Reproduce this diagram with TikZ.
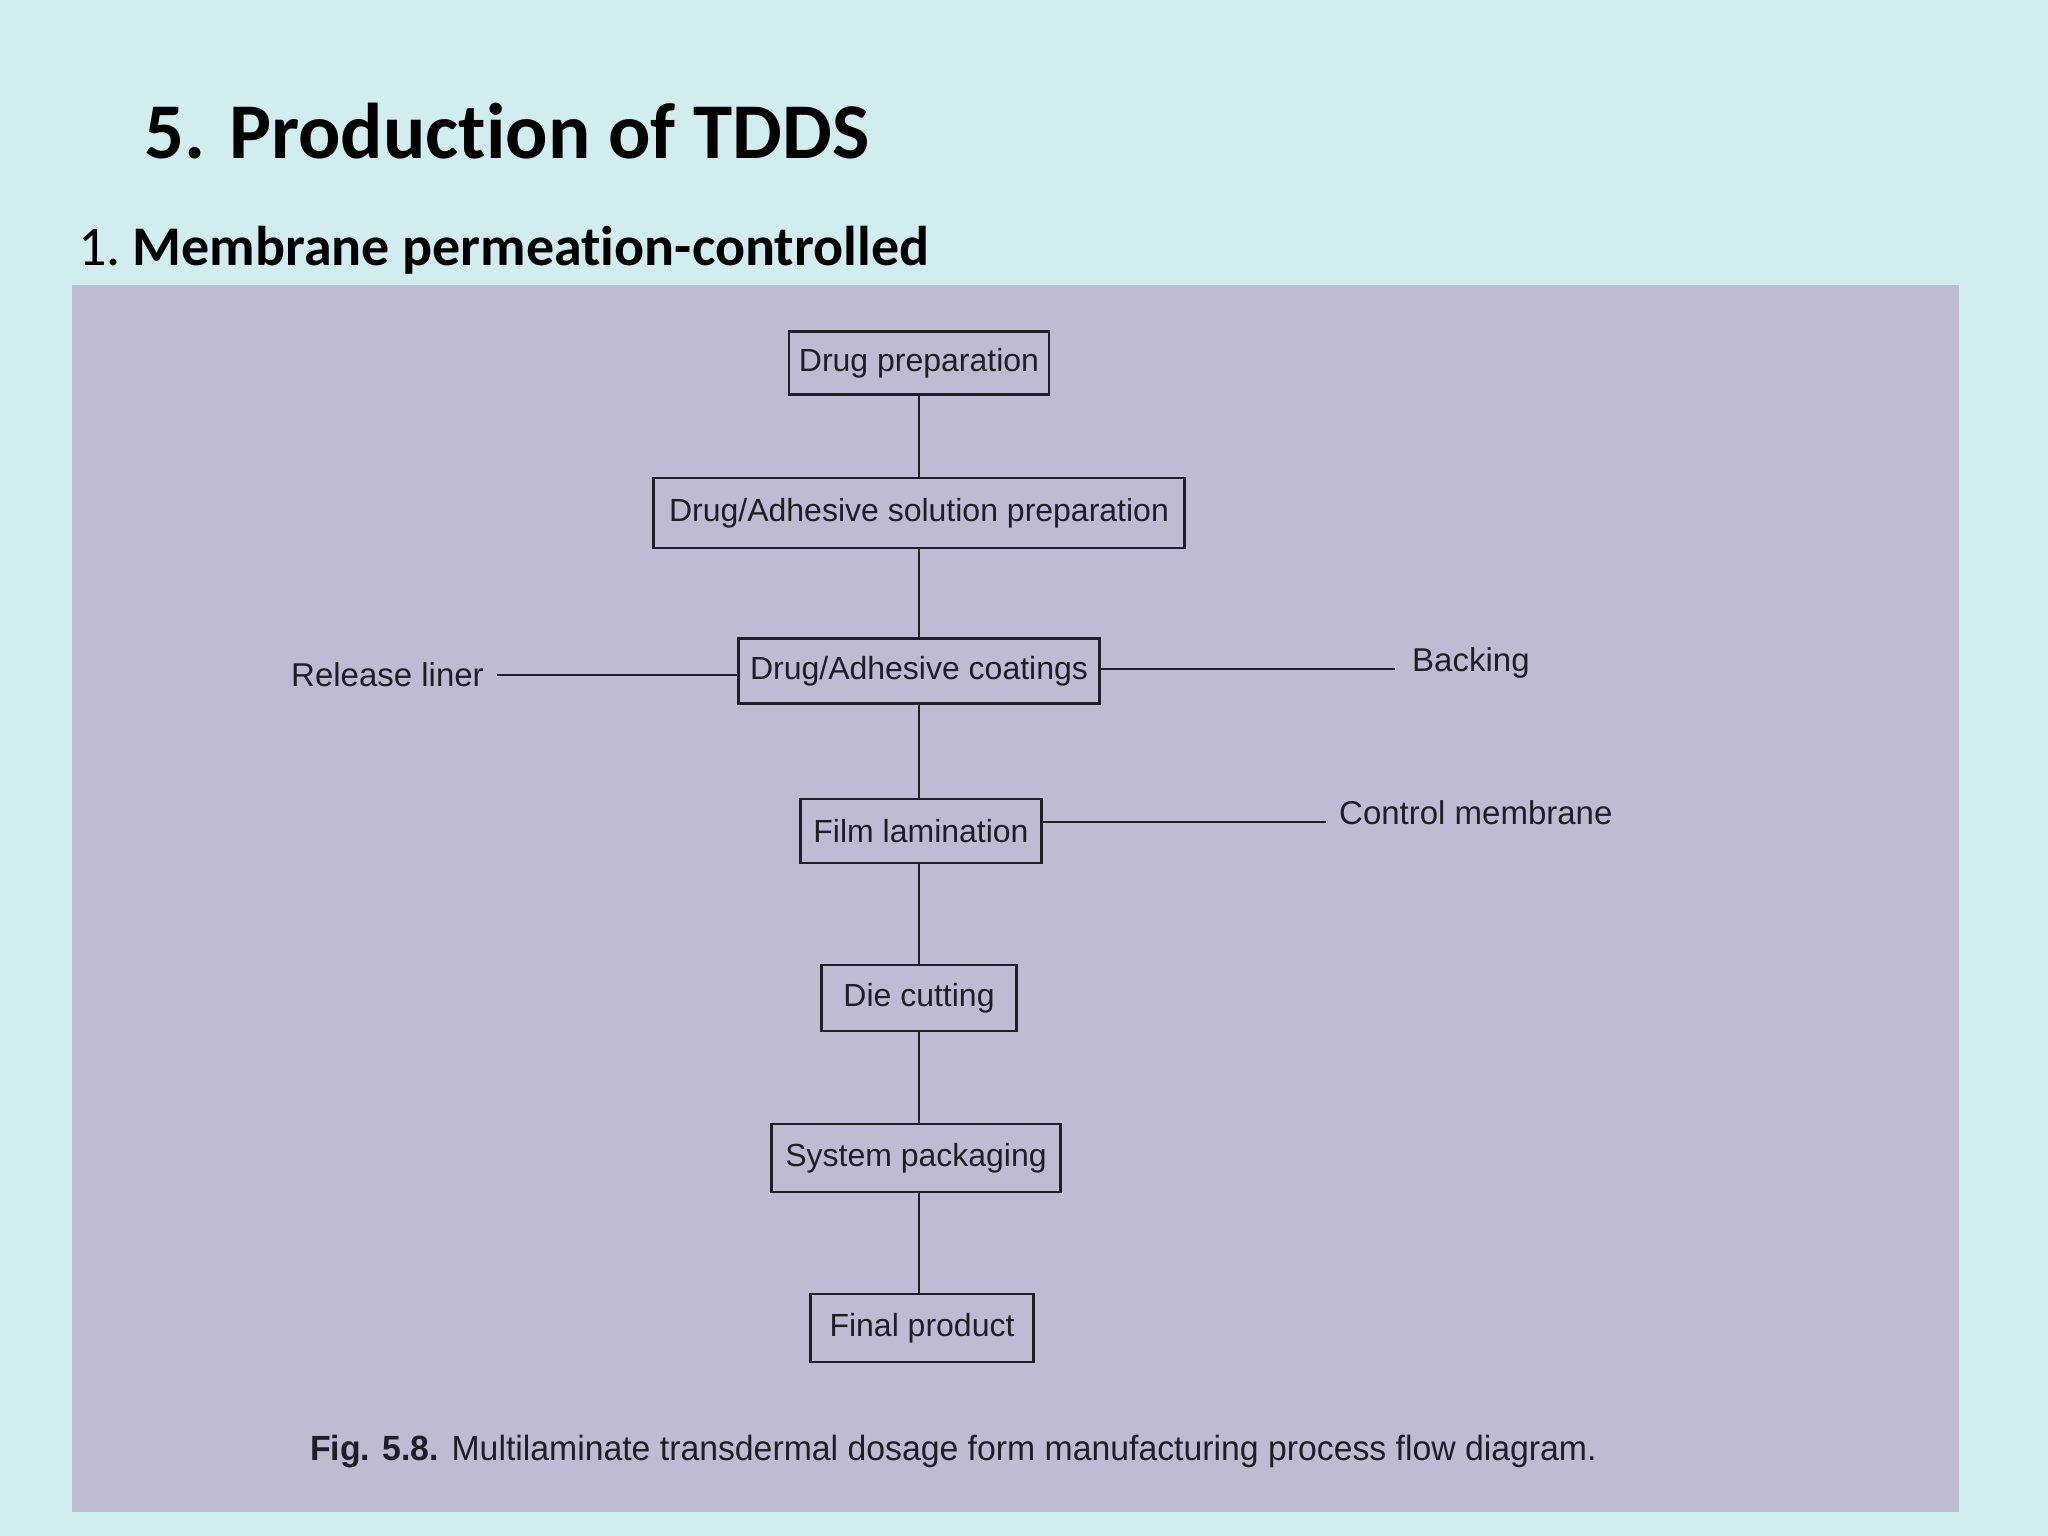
\documentclass[tikz,border=0pt]{standalone}
\usepackage{fontspec}
\setmainfont{Liberation Sans}
\newfontfamily\slidefont[Ligatures=NoCommon]{Carlito}
\newfontfamily\figfont{Liberation Sans}
\definecolor{bgcyan}{HTML}{D2EDF0}
\definecolor{panel}{HTML}{BEBCD3}
\definecolor{ink}{HTML}{1F1E27}
\begin{document}
\begin{tikzpicture}[x=1pt,y=-1pt,
  stepbox/.style={draw=ink, line width=2.8pt, text=ink, inner sep=0pt,
    font=\figfont\fontsize{32}{36}\selectfont},
  sidelabel/.style={text=ink, inner sep=0pt, font=\figfont\fontsize{33}{36}\selectfont},
  conn/.style={draw=ink, line width=2.5pt}]
\useasboundingbox (0,0) rectangle (2048,1536);
\fill[bgcyan] (0,0) rectangle (2048,1536);
\fill[panel] (72,285) rectangle (1959,1512);

% titles
\node[anchor=base west, inner sep=0pt, font=\slidefont\bfseries\fontsize{79}{90}\selectfont, text=black] (title) at (144,159) {5. Production of TDDS};
\node[anchor=base west, inner sep=0pt, font=\slidefont\fontsize{56}{64}\selectfont, text=black] (sub) at (78,265) {1.\hspace{-5pt} \textbf{Membrane permeation-controlled}};

% process boxes
\node[stepbox, minimum width=260, minimum height=63] (prep) at (919,363) {Drug preparation};
\node[stepbox, minimum width=531, minimum height=70] (sol) at (919,513) {Drug/Adhesive solution preparation};
\node[stepbox, minimum width=361, minimum height=65] (coat) at (919,671) {Drug/Adhesive coatings};
\node[stepbox, minimum width=241, minimum height=64] (film) at (921,831) {Film lamination};
\node[stepbox, minimum width=195, minimum height=66] (die) at (919,998) {Die cutting};
\node[stepbox, minimum width=289, minimum height=68] (pack) at (916,1158) {System packaging};
\node[stepbox, minimum width=223, minimum height=68] (final) at (922,1328) {Final product};

% side labels
\node[sidelabel, anchor=east] (rl) at (484,675) {Release liner};
\node[sidelabel, anchor=west] (back) at (1412,663) {Backing};
\node[sidelabel, anchor=west] (cm) at (1339,813) {Control membrane};

% vertical connectors
\draw[conn] (prep.south) -- (prep.south |- sol.north);
\draw[conn] (sol.south) -- (sol.south |- coat.north);
\draw[conn] (coat.south) -- (coat.south |- film.north);
\draw[conn] (coat.south |- film.south) -- (coat.south |- die.north);
\draw[conn] (die.south) -- (die.south |- pack.north);
\draw[conn] (die.south |- pack.south) -- (die.south |- final.north);

% side connectors
\coordinate (rlend) at ([xshift=13pt]rl.east);
\draw[conn] (rlend) -- (rlend -| coat.west);
\coordinate (backend) at ([xshift=-17pt,yshift=-6pt]back.west);
\draw[conn] (backend -| coat.east) -- (backend);
\coordinate (cmend) at ([xshift=-13pt,yshift=-9pt]cm.west);
\draw[conn] (cmend -| film.east) -- (cmend);

% caption
\node[anchor=base west, inner sep=0pt, text=ink, font=\figfont\fontsize{35}{40}\selectfont] (cap) at (310,1460)
  {\scalebox{0.965}[1]{\textbf{Fig. 5.8.} Multilaminate transdermal dosage form manufacturing process flow diagram.}};
\end{tikzpicture}
\end{document}
